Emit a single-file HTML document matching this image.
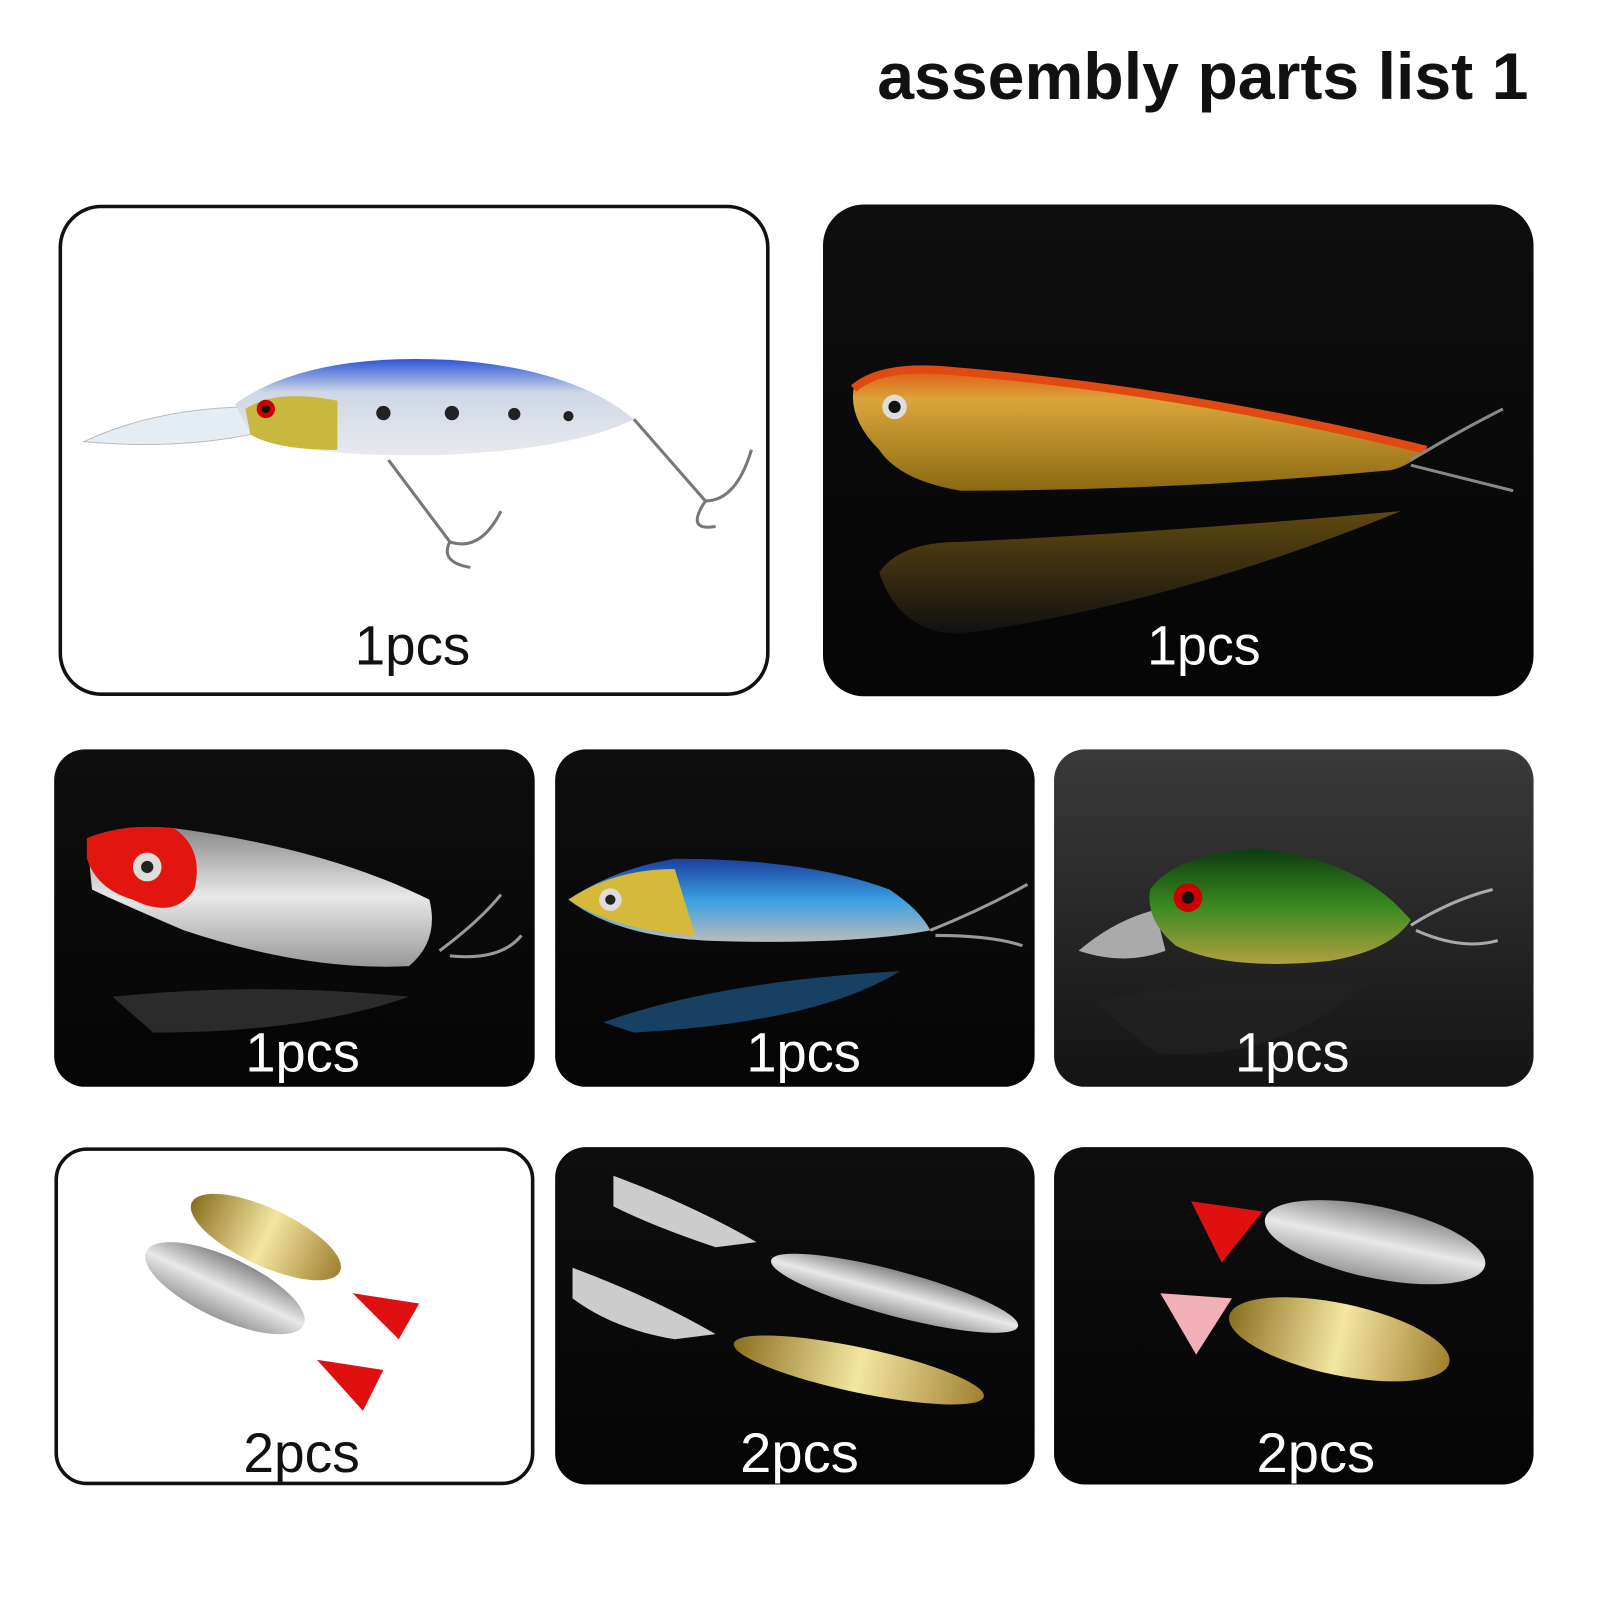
<!DOCTYPE html>
<html><head><meta charset="utf-8"><style>
html,body{margin:0;padding:0;background:#fff;}
svg{display:block}
text{font-family:"Liberation Sans","DejaVu Sans",sans-serif;}
</style></head><body>
<svg width="1600" height="1600" viewBox="0 0 1565 1565" xmlns="http://www.w3.org/2000/svg">
<defs>
<linearGradient id="blu" x1="0" y1="0" x2="0" y2="1"><stop offset="0" stop-color="#2a55d8"/><stop offset="0.35" stop-color="#cfd8e6"/><stop offset="1" stop-color="#e9e9ee"/></linearGradient>
<linearGradient id="gold" x1="0" y1="0" x2="0" y2="1"><stop offset="0" stop-color="#e25a1a"/><stop offset="0.25" stop-color="#d9a63a"/><stop offset="1" stop-color="#8a6a12"/></linearGradient>
<linearGradient id="goldr" x1="0" y1="0" x2="0" y2="1"><stop offset="0" stop-color="#6a5010"/><stop offset="1" stop-color="#111"/></linearGradient>
<linearGradient id="silv" x1="0" y1="0" x2="0" y2="1"><stop offset="0" stop-color="#888"/><stop offset="0.5" stop-color="#e8e8e8"/><stop offset="1" stop-color="#999"/></linearGradient>
<linearGradient id="bl2" x1="0" y1="0" x2="0" y2="1"><stop offset="0" stop-color="#1a3fa0"/><stop offset="0.5" stop-color="#3aa0e0"/><stop offset="1" stop-color="#bbb"/></linearGradient>
<linearGradient id="grn" x1="0" y1="0" x2="0" y2="1"><stop offset="0" stop-color="#0d3a10"/><stop offset="0.5" stop-color="#3a8a20"/><stop offset="1" stop-color="#b0a040"/></linearGradient>
<linearGradient id="dk" x1="0" y1="0" x2="0" y2="1"><stop offset="0" stop-color="#0e0e0e"/><stop offset="1" stop-color="#050505"/></linearGradient>
<linearGradient id="gry" x1="0" y1="0" x2="0" y2="1"><stop offset="0" stop-color="#3a3a3a"/><stop offset="1" stop-color="#141414"/></linearGradient>
<linearGradient id="gsp" x1="0" y1="0" x2="1" y2="0"><stop offset="0" stop-color="#8a7020"/><stop offset="0.5" stop-color="#f4e6a0"/><stop offset="1" stop-color="#a08030"/></linearGradient>
</defs>
<rect width="1565" height="1565" fill="#fff"/>
<text x="858" y="97" font-size="64" font-weight="bold" fill="#111" textLength="637" lengthAdjust="spacingAndGlyphs">assembly parts list 1</text>

<rect x="59" y="202" width="692" height="477" rx="40" fill="#fff" stroke="#111" stroke-width="3.5"/>
<path d="M82 432 Q150 400 240 398 L245 425 Q170 440 82 432Z" fill="#e6eef5" stroke="#bbb"/>
<path d="M230 395 Q300 345 440 352 Q560 360 620 410 Q560 440 430 445 Q300 448 245 425Z" fill="url(#blu)"/>
<path d="M240 400 Q270 380 330 392 L330 440 Q270 440 245 425Z" fill="#c9b840"/>
<circle cx="260" cy="400" r="9" fill="#c00"/><circle cx="260" cy="400" r="4" fill="#111"/>
<circle cx="375" cy="404" r="7" fill="#222"/><circle cx="442" cy="404" r="7" fill="#222"/><circle cx="503" cy="405" r="6" fill="#222"/><circle cx="556" cy="407" r="5" fill="#222"/>
<path d="M380 450 L440 530 M440 530 Q470 540 490 500 M440 530 Q430 550 460 555 M620 410 L690 490 M690 490 Q720 490 735 440 M690 490 Q670 520 700 515" stroke="#777" stroke-width="3" fill="none"/>
<text x="347" y="650" font-size="54" fill="#111" textLength="113" lengthAdjust="spacingAndGlyphs">1pcs</text>

<rect x="805" y="200" width="695" height="481" rx="40" fill="url(#dk)"/>
<path d="M835 380 Q860 358 920 362 Q1150 380 1395 440 Q1380 455 1360 460 Q1150 480 940 480 Q880 470 860 440 Q830 410 835 380Z" fill="url(#gold)"/>
<path d="M835 380 Q860 358 920 362 Q1150 380 1395 440" stroke="#e04a10" stroke-width="8" fill="none"/>
<circle cx="875" cy="398" r="12" fill="#ddd"/><circle cx="875" cy="398" r="6" fill="#111"/>
<path d="M860 560 Q880 530 940 530 Q1150 520 1370 500 Q1150 590 940 620 Q880 620 860 560Z" fill="url(#goldr)" opacity="0.9"/>
<path d="M1380 450 Q1430 420 1470 400 M1380 455 Q1440 470 1480 480" stroke="#888" stroke-width="3" fill="none"/>
<text x="1122" y="650" font-size="54" fill="#fff" textLength="111" lengthAdjust="spacingAndGlyphs">1pcs</text>

<rect x="53" y="733" width="470" height="330" rx="30" fill="url(#dk)"/>
<path d="M85 820 Q120 805 170 810 Q320 830 420 880 Q430 920 400 945 Q300 950 180 910 Q110 880 90 870Z" fill="url(#silv)"/>
<path d="M85 820 Q120 805 170 810 Q200 830 190 870 Q170 900 130 880 Q95 870 85 840Z" fill="#e3150f"/>
<circle cx="144" cy="848" r="14" fill="#ddd"/><circle cx="144" cy="848" r="6" fill="#222"/>
<path d="M110 975 Q250 960 400 975 Q300 1010 150 1010Z" fill="#3a3a3a" opacity="0.7"/>
<path d="M430 930 Q470 900 490 875 M440 935 Q490 940 510 915" stroke="#999" stroke-width="3" fill="none"/>
<text x="240" y="1048" font-size="54" fill="#fff" textLength="112" lengthAdjust="spacingAndGlyphs">1pcs</text>

<rect x="543" y="733" width="469" height="330" rx="30" fill="url(#dk)"/>
<path d="M556 880 Q600 850 660 840 Q790 840 870 870 Q900 890 910 910 Q830 925 690 920 Q600 915 556 880Z" fill="url(#bl2)"/>
<path d="M556 880 Q600 850 660 850 L680 915 Q600 910 556 880Z" fill="#d6b83a"/>
<circle cx="597" cy="880" r="11" fill="#ddd"/><circle cx="597" cy="880" r="5" fill="#222"/>
<path d="M590 1000 Q700 960 880 950 Q800 1000 620 1010Z" fill="#1c4f7a" opacity="0.8"/>
<path d="M910 910 Q960 890 1005 865 M915 915 Q970 915 1000 925" stroke="#999" stroke-width="3" fill="none"/>
<text x="730" y="1048" font-size="54" fill="#fff" textLength="112" lengthAdjust="spacingAndGlyphs">1pcs</text>

<rect x="1031" y="733" width="469" height="330" rx="30" fill="url(#gry)"/>
<path d="M1055 930 Q1090 900 1130 890 L1140 930 Q1100 945 1055 930Z" fill="#ccc" opacity="0.8"/>
<path d="M1125 870 Q1150 835 1230 830 Q1330 840 1380 900 Q1360 930 1300 940 Q1200 950 1150 925 Q1120 900 1125 870Z" fill="url(#grn)"/>
<circle cx="1162" cy="878" r="14" fill="#c00"/><circle cx="1162" cy="878" r="6" fill="#111"/>
<path d="M1070 980 Q1200 950 1340 960 Q1250 1040 1130 1030Z" fill="#222" opacity="0.8"/>
<path d="M1380 905 Q1420 880 1460 870 M1385 910 Q1430 930 1465 920" stroke="#aaa" stroke-width="3" fill="none"/>
<text x="1208" y="1048" font-size="54" fill="#fff" textLength="112" lengthAdjust="spacingAndGlyphs">1pcs</text>

<rect x="55" y="1124" width="466" height="327" rx="30" fill="#fff" stroke="#111" stroke-width="3.5"/>
<ellipse cx="260" cy="1210" rx="80" ry="28" transform="rotate(25 260 1210)" fill="url(#gsp)"/>
<ellipse cx="220" cy="1260" rx="85" ry="30" transform="rotate(25 220 1260)" fill="url(#silv)"/>
<path d="M345 1265 L410 1275 L390 1310Z" fill="#e01010"/>
<path d="M310 1330 L375 1340 L355 1380Z" fill="#e01010"/>
<text x="238" y="1440" font-size="54" fill="#111" textLength="114" lengthAdjust="spacingAndGlyphs">2pcs</text>

<rect x="543" y="1122" width="469" height="330" rx="30" fill="url(#dk)"/>
<path d="M600 1150 Q680 1180 740 1215 L700 1220 Q640 1200 600 1180Z" fill="#eee" opacity="0.85"/>
<path d="M560 1240 Q640 1270 700 1305 L660 1310 Q600 1300 560 1270Z" fill="#eee" opacity="0.85"/>
<ellipse cx="875" cy="1265" rx="125" ry="22" transform="rotate(15 875 1265)" fill="url(#silv)"/>
<ellipse cx="840" cy="1340" rx="125" ry="22" transform="rotate(12 840 1340)" fill="url(#gsp)"/>
<text x="724" y="1440" font-size="54" fill="#fff" textLength="116" lengthAdjust="spacingAndGlyphs">2pcs</text>

<rect x="1031" y="1122" width="469" height="330" rx="30" fill="url(#dk)"/>
<ellipse cx="1345" cy="1215" rx="110" ry="35" transform="rotate(12 1345 1215)" fill="url(#silv)"/>
<ellipse cx="1310" cy="1310" rx="110" ry="35" transform="rotate(12 1310 1310)" fill="url(#gsp)"/>
<path d="M1165 1175 L1235 1185 L1195 1235Z" fill="#e01010"/>
<path d="M1135 1265 L1205 1270 L1170 1325Z" fill="#f3b0b8"/>
<text x="1229" y="1440" font-size="54" fill="#fff" textLength="116" lengthAdjust="spacingAndGlyphs">2pcs</text>
</svg>
</body></html>
